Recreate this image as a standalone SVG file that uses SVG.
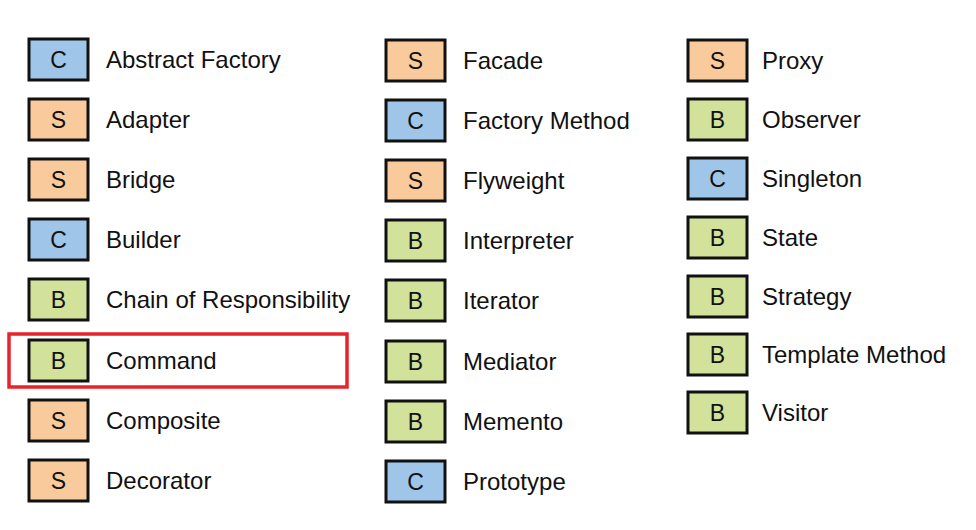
<svg xmlns="http://www.w3.org/2000/svg" width="976" height="530" viewBox="0 0 976 530">
<style>
rect.b{stroke:#111;stroke-width:3}
.C{fill:#9fc5e8}.S{fill:#f9cb9c}.B{fill:#d2e29b}
text{font-family:"Liberation Sans",Arial,sans-serif;font-size:24px;fill:#111}
text.l{text-anchor:middle;font-size:23px}
</style>
<rect width="976" height="530" fill="#fff"/>
<g id="col1">
<g id="n1"><rect class="b C" x="29" y="39" width="59" height="41"/><text class="l" x="58.5" y="68">C</text><text x="106" y="68">Abstract Factory</text></g>
<g id="n2"><rect class="b S" x="29" y="99" width="59" height="41"/><text class="l" x="58.5" y="128">S</text><text x="106" y="128">Adapter</text></g>
<g id="n3"><rect class="b S" x="29" y="159" width="59" height="41"/><text class="l" x="58.5" y="188">S</text><text x="106" y="188">Bridge</text></g>
<g id="n4"><rect class="b C" x="29" y="219" width="59" height="41"/><text class="l" x="58.5" y="248">C</text><text x="106" y="248">Builder</text></g>
<g id="n5"><rect class="b B" x="29" y="279" width="59" height="41"/><text class="l" x="58.5" y="308">B</text><text x="106" y="308">Chain of Responsibility</text></g>
<g id="n6"><rect class="b B" x="29" y="340" width="59" height="41"/><text class="l" x="58.5" y="369">B</text><text x="106" y="369">Command</text></g>
<g id="n7"><rect class="b S" x="29" y="400" width="59" height="41"/><text class="l" x="58.5" y="429">S</text><text x="106" y="429">Composite</text></g>
<g id="n8"><rect class="b S" x="29" y="460" width="59" height="41"/><text class="l" x="58.5" y="489">S</text><text x="106" y="489">Decorator</text></g>
</g>
<g id="col2">
<g id="n9"><rect class="b S" x="386" y="40" width="59" height="41"/><text class="l" x="415.5" y="69">S</text><text x="463" y="69">Facade</text></g>
<g id="n10"><rect class="b C" x="386" y="100" width="59" height="41"/><text class="l" x="415.5" y="129">C</text><text x="463" y="129">Factory Method</text></g>
<g id="n11"><rect class="b S" x="386" y="160" width="59" height="41"/><text class="l" x="415.5" y="189">S</text><text x="463" y="189">Flyweight</text></g>
<g id="n12"><rect class="b B" x="386" y="220" width="59" height="41"/><text class="l" x="415.5" y="249">B</text><text x="463" y="249">Interpreter</text></g>
<g id="n13"><rect class="b B" x="386" y="280" width="59" height="41"/><text class="l" x="415.5" y="309">B</text><text x="463" y="309">Iterator</text></g>
<g id="n14"><rect class="b B" x="386" y="341" width="59" height="41"/><text class="l" x="415.5" y="370">B</text><text x="463" y="370">Mediator</text></g>
<g id="n15"><rect class="b B" x="386" y="401" width="59" height="41"/><text class="l" x="415.5" y="430">B</text><text x="463" y="430">Memento</text></g>
<g id="n16"><rect class="b C" x="386" y="461" width="59" height="41"/><text class="l" x="415.5" y="490">C</text><text x="463" y="490">Prototype</text></g>
</g>
<g id="col3">
<g id="n17"><rect class="b S" x="688" y="40" width="59" height="41"/><text class="l" x="717.5" y="69">S</text><text x="762" y="69">Proxy</text></g>
<g id="n18"><rect class="b B" x="688" y="99" width="59" height="41"/><text class="l" x="717.5" y="128">B</text><text x="762" y="128">Observer</text></g>
<g id="n19"><rect class="b C" x="688" y="158" width="59" height="41"/><text class="l" x="717.5" y="187">C</text><text x="762" y="187">Singleton</text></g>
<g id="n20"><rect class="b B" x="688" y="217" width="59" height="41"/><text class="l" x="717.5" y="246">B</text><text x="762" y="246">State</text></g>
<g id="n21"><rect class="b B" x="688" y="276" width="59" height="41"/><text class="l" x="717.5" y="305">B</text><text x="762" y="305">Strategy</text></g>
<g id="n22"><rect class="b B" x="688" y="334" width="59" height="41"/><text class="l" x="717.5" y="363">B</text><text x="762" y="363">Template Method</text></g>
<g id="n23"><rect class="b B" x="688" y="392" width="59" height="41"/><text class="l" x="717.5" y="421">B</text><text x="762" y="421">Visitor</text></g>
</g>
<g id="connectors"></g>
<rect id="highlight" x="9" y="334" width="338" height="53" fill="none" stroke="#e8232a" stroke-width="3.5"/>
</svg>
